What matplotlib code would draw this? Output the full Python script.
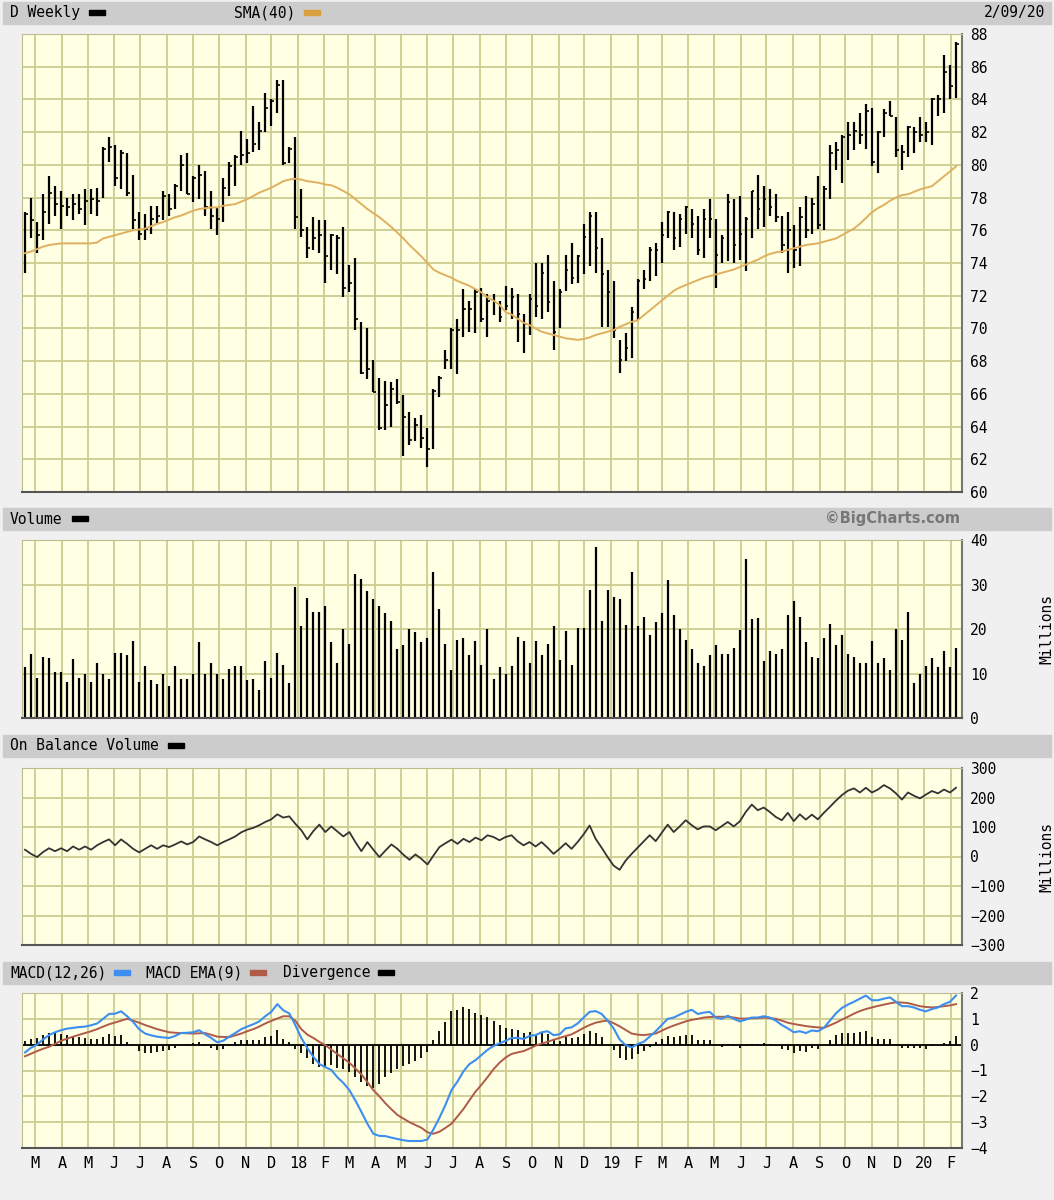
import matplotlib
matplotlib.use("Agg")
import matplotlib.pyplot as plt
from matplotlib.patches import Rectangle
import numpy as np
import pandas as pd

# weekly bars, week ending Fridays
dates = pd.date_range("2017-02-17", periods=156, freq="W-FRI")

high = [77.1, 78.0, 76.5, 78.2, 79.3, 78.7, 78.4, 78.0, 78.2, 78.2, 78.5, 78.5, 78.6, 81.1, 81.7, 81.2, 80.9, 80.7, 79.4, 77.1,
        77.0, 77.5, 77.5, 78.4, 78.2, 78.8, 80.6, 80.7, 79.3, 80.0, 79.6, 78.4, 77.4, 79.2, 80.2, 80.6, 82.1, 81.6, 83.6, 82.6,
        84.4, 84.0, 85.2, 85.2, 81.1, 81.7, 78.5, 76.2, 76.8, 76.6, 76.6, 75.8, 75.7, 76.2, 73.9, 74.3, 70.4, 70.0, 68.1, 67.0,
        66.8, 66.7, 66.9, 65.9, 64.9, 64.5, 64.7, 63.9, 66.3, 67.1, 68.7, 70.0, 70.6, 72.4, 71.7, 72.4, 72.5, 72.1, 72.1, 71.7,
        72.6, 72.5, 72.1, 70.9, 72.1, 74.0, 74.0, 74.5, 72.9, 72.4, 74.5, 75.2, 74.5, 76.4, 77.1, 77.1, 75.5, 73.6, 72.9, 69.3,
        69.7, 71.3, 73.0, 73.6, 75.0, 75.2, 76.5, 77.2, 77.1, 77.0, 77.5, 77.3, 76.9, 77.3, 77.9, 76.7, 75.7, 78.2, 77.9, 78.1,
        76.8, 78.4, 79.4, 78.7, 78.5, 78.2, 76.9, 77.1, 76.3, 77.4, 78.1, 78.0, 79.3, 78.7, 81.2, 81.4, 81.8, 82.6, 82.6, 83.2,
        83.7, 83.5, 82.1, 83.4, 83.9, 82.9, 81.2, 82.4, 82.3, 82.9, 82.6, 84.1, 84.3, 86.7, 86.1, 87.5]
low = [73.4, 75.5, 74.6, 75.4, 76.4, 76.9, 76.1, 76.9, 76.6, 77.0, 76.3, 77.0, 76.9, 78.0, 80.2, 78.7, 78.5, 78.1, 76.1, 75.4,
       75.4, 75.8, 76.4, 76.6, 76.9, 77.3, 78.4, 78.2, 77.7, 77.9, 76.9, 76.1, 75.7, 76.5, 78.1, 78.7, 80.0, 80.1, 80.8, 80.9,
       82.0, 82.4, 83.2, 80.0, 80.1, 76.1, 75.6, 74.3, 74.8, 74.6, 72.8, 73.6, 73.3, 71.9, 72.2, 69.9, 67.2, 66.9, 66.1, 63.8,
       63.8, 64.0, 65.4, 62.2, 62.9, 63.1, 62.7, 61.5, 62.6, 65.8, 67.5, 67.5, 67.2, 69.5, 69.8, 69.7, 70.4, 69.5, 70.8, 70.4,
       71.1, 70.6, 69.2, 68.5, 69.6, 70.7, 70.6, 71.0, 68.7, 70.0, 72.3, 72.7, 72.8, 73.3, 73.8, 73.4, 70.1, 70.1, 69.4, 67.3,
       68.0, 68.2, 70.5, 72.4, 72.9, 73.2, 74.0, 75.5, 74.8, 75.0, 75.8, 75.5, 74.5, 74.3, 75.5, 72.5, 74.0, 74.1, 74.0, 74.2,
       73.5, 75.5, 76.1, 76.2, 76.9, 76.5, 74.6, 73.4, 73.7, 73.8, 75.5, 75.8, 76.1, 76.0, 77.9, 79.7, 78.9, 80.3, 80.9, 81.3,
       81.0, 79.9, 79.5, 81.7, 83.0, 80.5, 79.7, 80.5, 80.7, 81.4, 81.4, 81.2, 83.0, 83.2, 84.0, 84.1]
close = [77.0, 76.6, 75.7, 77.1, 78.3, 77.6, 77.5, 77.4, 77.6, 77.3, 77.8, 77.9, 77.8, 81.0, 81.1, 79.2, 80.7, 78.3, 76.6, 75.8,
         76.1, 76.7, 76.9, 78.1, 77.3, 78.7, 80.0, 78.2, 79.2, 79.4, 77.4, 76.9, 76.7, 78.6, 79.9, 80.5, 80.6, 80.7, 81.3, 82.1,
         83.5, 83.9, 84.9, 80.1, 81.0, 76.8, 76.0, 74.9, 75.5, 75.7, 74.4, 75.7, 75.5, 72.5, 72.8, 70.6, 67.3, 67.5, 66.1, 63.9,
         65.3, 66.3, 65.5, 64.6, 63.2, 64.1, 63.3, 62.6, 66.2, 67.0, 68.1, 69.9, 69.9, 71.2, 71.2, 72.2, 70.6, 71.7, 71.6, 70.7,
         71.4, 71.9, 70.9, 70.3, 71.8, 71.4, 73.4, 71.6, 69.8, 72.2, 73.6, 73.1, 74.4, 75.6, 76.9, 74.9, 73.3, 72.2, 69.9, 68.1,
         68.8, 71.0, 72.9, 73.0, 74.8, 74.8, 75.7, 77.1, 75.5, 76.7, 77.4, 76.4, 74.8, 76.7, 76.7, 74.5, 75.5, 77.7, 75.1, 75.8,
         76.7, 78.4, 77.3, 77.9, 77.4, 76.8, 75.1, 76.0, 74.8, 76.8, 76.0, 77.6, 76.3, 78.5, 80.7, 80.9, 81.7, 81.8, 82.1, 81.8,
         83.3, 80.2, 82.0, 83.2, 83.0, 80.9, 80.8, 82.3, 82.0, 81.8, 82.0, 84.0, 84.0, 85.7, 84.8, 87.4]
sma40 = [74.6, 74.7, 74.85, 75.0, 75.1, 75.15, 75.2, 75.2, 75.2, 75.2, 75.2, 75.2, 75.25, 75.5, 75.6, 75.7, 75.8, 75.9, 76.0, 76.05,
         76.1, 76.25, 76.4, 76.5, 76.65, 76.8, 76.9, 77.05, 77.2, 77.3, 77.35, 77.4, 77.4, 77.5, 77.55, 77.6, 77.75, 77.9, 78.1, 78.3,
         78.45, 78.6, 78.8, 79.0, 79.1, 79.15, 79.1, 79.0, 78.95, 78.9, 78.8, 78.75, 78.6, 78.4, 78.2, 77.9, 77.6, 77.3, 77.05, 76.8,
         76.5, 76.2, 75.85, 75.5, 75.1, 74.75, 74.4, 74.0, 73.6, 73.4, 73.25, 73.1, 72.9, 72.75, 72.6, 72.4, 72.2, 71.9, 71.7, 71.45,
         71.0, 70.85, 70.6, 70.35, 70.2, 70.0, 69.8, 69.7, 69.6, 69.5, 69.4, 69.35, 69.3, 69.35, 69.45, 69.6, 69.7, 69.8, 69.9, 70.1,
         70.25, 70.4, 70.5, 70.8, 71.1, 71.4, 71.7, 72.0, 72.3, 72.5, 72.65, 72.8, 72.95, 73.1, 73.2, 73.3, 73.4, 73.5, 73.6, 73.75,
         73.9, 74.05, 74.2, 74.4, 74.55, 74.65, 74.7, 74.8, 74.9, 75.0, 75.1, 75.15, 75.2, 75.3, 75.4, 75.5, 75.7, 75.9, 76.1, 76.4,
         76.75, 77.1, 77.35, 77.55, 77.8, 78.0, 78.15, 78.2, 78.35, 78.5, 78.6, 78.7, 79.0, 79.3, 79.6, 79.9]

# millions
volume = [11.4, 14.3, 9.1, 13.8, 13.4, 10.4, 10.4, 8.2, 13.2, 9.1, 9.8, 8.2, 12.4, 9.8, 8.8, 14.7, 14.7, 14.1, 17.3, 8.2,
          11.7, 8.6, 7.6, 10.0, 7.2, 11.7, 8.8, 8.8, 9.8, 17.0, 9.8, 12.4, 9.8, 8.8, 11.1, 11.7, 11.7, 8.6, 8.8, 6.2,
          12.7, 9.1, 14.7, 12.0, 7.8, 29.4, 20.6, 27.0, 23.8, 23.8, 25.1, 17.0, 12.4, 20.0, 16.7, 32.3, 31.3, 28.6, 26.7, 25.1,
          23.6, 21.8, 15.4, 16.4, 20.0, 19.3, 17.0, 18.0, 32.9, 24.4, 16.7, 10.8, 17.6, 18.0, 14.1, 17.3, 12.0, 20.0, 8.8, 11.4,
          10.0, 11.7, 18.2, 17.3, 12.4, 17.3, 14.1, 16.7, 20.6, 13.0, 19.6, 12.0, 20.2, 20.2, 28.8, 38.5, 21.9, 28.8, 27.1, 26.8,
          20.8, 32.9, 20.6, 22.8, 18.6, 21.6, 23.6, 31.0, 23.2, 20.0, 17.6, 15.4, 12.4, 11.7, 14.1, 16.4, 14.3, 14.3, 15.7, 19.7,
          35.7, 22.2, 22.5, 12.7, 15.1, 14.3, 15.4, 23.2, 26.4, 22.8, 17.0, 13.8, 13.4, 18.0, 21.2, 16.4, 18.6, 14.3, 13.8, 12.4,
          12.4, 17.3, 12.4, 13.4, 10.8, 20.0, 17.6, 23.8, 7.8, 10.0, 11.7, 13.4, 11.4, 15.1, 11.4, 15.7]
obv = [23, 9, -2, 15, 28, 18, 28, 18, 34, 23, 34, 23, 38, 49, 58, 38, 58, 43, 26, 14,
       26, 38, 26, 38, 32, 41, 51, 41, 49, 68, 58, 49, 38, 49, 58, 68, 82, 91, 97, 106,
       117, 126, 143, 132, 136, 111, 89, 58, 86, 108, 83, 102, 85, 68, 83, 49, 18, 49, 23, -2,
       20, 41, 26, 6, -11, 7, -8, -27, 3, 32, 45, 57, 43, 60, 49, 64, 55, 72, 66, 55,
       66, 72, 52, 38, 49, 34, 49, 30, 9, 26, 45, 26, 49, 75, 105, 60, 30, -2, -31, -45,
       -14, 9, 30, 51, 72, 52, 80, 108, 83, 102, 123, 106, 92, 102, 102, 89, 103, 117, 102, 119,
       151, 176, 157, 166, 151, 134, 123, 148, 120, 143, 125, 142, 126, 148, 168, 189, 208, 223, 231, 217,
       233, 217, 227, 242, 231, 214, 193, 217, 206, 197, 210, 222, 214, 227, 217, 233]
macd = [-0.30, -0.12, 0.0, 0.2, 0.37, 0.48, 0.56, 0.62, 0.65, 0.68, 0.70, 0.75, 0.82, 1.0, 1.19, 1.2, 1.29, 1.1, 0.88, 0.6,
        0.43, 0.36, 0.31, 0.28, 0.26, 0.34, 0.45, 0.46, 0.48, 0.56, 0.4, 0.26, 0.09, 0.15, 0.31, 0.45, 0.6, 0.7, 0.79, 0.9,
        1.1, 1.27, 1.57, 1.33, 1.21, 0.76, 0.26, -0.13, -0.47, -0.75, -0.87, -0.98, -1.26, -1.48, -1.76, -2.16, -2.6, -3.06, -3.45, -3.53,
        -3.54, -3.6, -3.65, -3.7, -3.73, -3.73, -3.73, -3.67, -3.28, -2.83, -2.33, -1.76, -1.43, -1.03, -0.75, -0.6, -0.4, -0.2, -0.05, 0.05,
        0.15, 0.26, 0.26, 0.22, 0.34, 0.37, 0.48, 0.52, 0.37, 0.4, 0.63, 0.67, 0.82, 1.05, 1.27, 1.3, 1.19, 0.93, 0.63, 0.2,
        -0.02, -0.11, 0.03, 0.11, 0.31, 0.52, 0.76, 1.0, 1.05, 1.16, 1.27, 1.35, 1.19, 1.24, 1.27, 1.05, 1.0, 1.12, 1.0, 0.9,
        0.97, 1.05, 1.05, 1.1, 1.05, 0.93, 0.76, 0.63, 0.48, 0.52, 0.45, 0.55, 0.52, 0.65, 0.93, 1.21, 1.42, 1.55, 1.66, 1.78,
        1.9, 1.72, 1.72, 1.78, 1.83, 1.66, 1.49, 1.49, 1.44, 1.35, 1.29, 1.38, 1.44, 1.57, 1.66, 1.9]
signal = [-0.45, -0.35, -0.25, -0.16, -0.08, 0.03, 0.15, 0.23, 0.31, 0.38, 0.45, 0.52, 0.6, 0.7, 0.79, 0.86, 0.93, 1.0, 0.93, 0.85,
          0.76, 0.68, 0.6, 0.54, 0.48, 0.46, 0.45, 0.44, 0.43, 0.44, 0.45, 0.38, 0.31, 0.3, 0.29, 0.36, 0.43, 0.52, 0.6, 0.7,
          0.82, 0.92, 1.01, 1.1, 1.1, 0.93, 0.6, 0.39, 0.26, 0.11, -0.02, -0.19, -0.36, -0.53, -0.7, -0.92, -1.15, -1.45, -1.76, -2.0,
          -2.27, -2.5, -2.72, -2.86, -3.0, -3.11, -3.22, -3.39, -3.45, -3.37, -3.22, -3.06, -2.78, -2.49, -2.15, -1.82, -1.55, -1.26, -0.95, -0.7,
          -0.5, -0.36, -0.3, -0.25, -0.15, -0.04, 0.04, 0.11, 0.19, 0.26, 0.33, 0.4, 0.52, 0.65, 0.76, 0.85, 0.9, 0.93, 0.83, 0.71,
          0.57, 0.43, 0.39, 0.37, 0.4, 0.43, 0.54, 0.65, 0.74, 0.82, 0.9, 0.96, 1.0, 1.05, 1.07, 1.08, 1.08, 1.08, 1.05, 1.01,
          1.01, 1.02, 1.03, 1.05, 1.03, 1.0, 0.93, 0.85, 0.8, 0.76, 0.72, 0.69, 0.67, 0.65, 0.75, 0.85, 0.97, 1.08, 1.2, 1.3,
          1.38, 1.44, 1.5, 1.55, 1.6, 1.64, 1.63, 1.61, 1.55, 1.49, 1.46, 1.44, 1.46, 1.49, 1.52, 1.57]

macd = np.array(macd)
signal = np.array(signal)
divergence = macd - signal
x = np.arange(len(dates))

BG = "#ffffe3"
GRID = "#cdcd8f"
HEAD = "#cccccc"
MONO = "DejaVu Sans Mono"

fig = plt.figure(figsize=(10.54, 12), dpi=100)
fig.patch.set_facecolor("#f0f0f0")

L, W = 22 / 1054, 940 / 1054
def ax_at(top, bottom):
    return fig.add_axes([L, 1 - bottom / 1200, W, (bottom - top) / 1200])

ax_p = ax_at(34, 492)
ax_v = ax_at(540, 718)
ax_o = ax_at(768, 945)
ax_m = ax_at(993, 1148)

# month grid positions
d0 = dates[0]
months = pd.date_range("2017-03-01", "2020-02-01", freq="MS")
mpos = [(m - d0).days / 7 for m in months]
mlab = [m.strftime("%y") if m.month == 1 else m.strftime("%b")[0] for m in months]

for ax in (ax_p, ax_v, ax_o, ax_m):
    ax.set_facecolor(BG)
    ax.set_xlim(-0.5, 156)
    ax.set_xticks(mpos)
    ax.grid(True, color=GRID, lw=1.3)
    ax.set_axisbelow(True)
    ax.yaxis.tick_right()
    ax.tick_params(length=0, labelsize=10.5, pad=6)
    for lab in ax.get_yticklabels():
        lab.set_family(MONO)
    for s in ax.spines.values():
        s.set_color("#bcbc90")
    ax.spines["bottom"].set_color("#555555")
    ax.spines["right"].set_color("#777777")
    ax.spines["bottom"].set_linewidth(1.5)
    ax.spines["right"].set_linewidth(1.5)
    if ax is not ax_m:
        ax.set_xticklabels([])

ax_m.set_xticklabels(mlab, family=MONO, fontsize=11)

# price bars
ax_p.vlines(x, low, high, color="black", lw=1.6)
ax_p.hlines(close, x, x + 0.45, color="black", lw=1.2)
ax_p.plot(x, sma40, color="#e0b060", lw=1.4)
ax_p.set_ylim(60, 88)
ax_p.set_yticks(range(60, 89, 2))

# volume
ax_v.vlines(x, 0, volume, color="black", lw=1.6)
ax_v.set_ylim(0, 40)
ax_v.set_yticks([0, 10, 20, 30, 40])

# on balance volume
ax_o.plot(x, obv, color="#333333", lw=1.3)
ax_o.set_ylim(-300, 300)
ax_o.set_yticks(range(-300, 301, 100))

# MACD
ax_m.axhline(0, color="black", lw=1.3)
ax_m.vlines(x, 0, divergence, color="black", lw=1.3)
ax_m.plot(x, signal, color="#b05a48", lw=1.4)
ax_m.plot(x, macd, color="#3c8ef0", lw=1.5)
ax_m.set_ylim(-4, 2)
ax_m.set_yticks(range(-4, 3))

for ax in (ax_v, ax_o):
    ax.text(1.09, 0.5, "Millions", transform=ax.transAxes, rotation=90,
            va="center", ha="center", family=MONO, fontsize=10.5)

# header strips
def header(top, bottom):
    fig.patches.append(Rectangle((3 / 1054, 1 - bottom / 1200), 1048 / 1054, (bottom - top) / 1200,
                                 transform=fig.transFigure, color=HEAD, zorder=0))

def swatch(px, py, color):
    fig.patches.append(Rectangle((px / 1054, 1 - (py + 3) / 1200), 16 / 1054, 5 / 1200,
                                 transform=fig.transFigure, color=color, zorder=2))

def htext(px, py, s, **kw):
    fig.text(px / 1054, 1 - py / 1200, s, family=MONO, fontsize=10.5, va="center", **kw)

header(2, 24)
htext(10, 13, "D Weekly")
swatch(89, 12, "black")
htext(234, 13, "SMA(40)")
swatch(304, 12, "#d9a040")
htext(1045, 13, "2/09/20", ha="right")

header(508, 530)
htext(10, 519, "Volume")
swatch(72, 518, "black")
fig.text(960 / 1054, 1 - 519 / 1200, "©BigCharts.com", fontsize=10.5, weight="bold",
         color="#777777", ha="right", va="center")

header(735, 757)
htext(10, 746, "On Balance Volume")
swatch(168, 745, "black")

header(962, 984)
htext(10, 973, "MACD(12,26)")
swatch(114, 972, "#3c8ef0")
htext(146, 973, "MACD EMA(9)")
swatch(250, 972, "#b05a48")
htext(283, 973, "Divergence")
swatch(378, 972, "black")

fig.savefig("out.png", dpi=100, facecolor=fig.get_facecolor())
